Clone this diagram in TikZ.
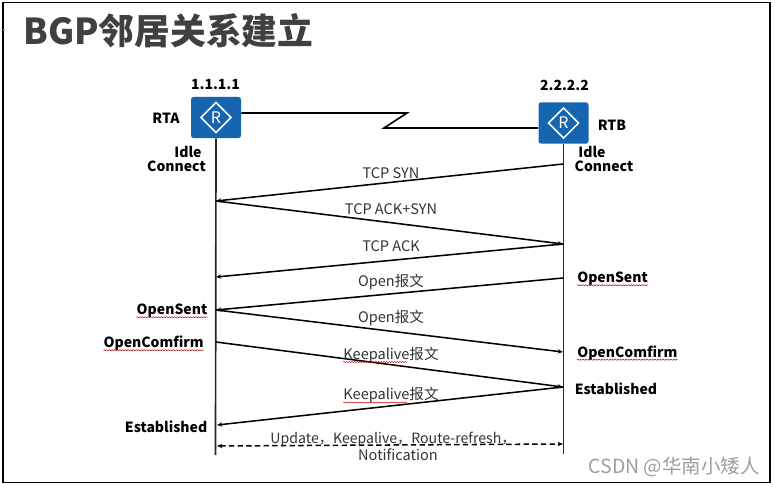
\documentclass[tikz,border=0pt]{standalone}
\usepackage{fontspec}
\setmainfont{Noto Sans CJK SC}
\usetikzlibrary{arrows.meta,decorations.pathmorphing,shapes.geometric}
\definecolor{routerblue}{HTML}{1565B0}
\definecolor{titlegrey}{HTML}{404040}
\definecolor{msggrey}{HTML}{333333}
\tikzset{
  router/.style={draw=none,fill=routerblue,rounded corners=2pt,minimum width=37.5pt,minimum height=31pt,inner sep=0pt},
  lifeline/.style={line width=1.25pt,black!85},
  msg/.style={line width=1.15pt,black,-{Stealth[length=4pt,width=3.2pt]}},
  state/.style={font=\fontsize{10.5}{12}\selectfont\bfseries,text=black,inner sep=0pt},
  msglabel/.style={font=\fontsize{10.9}{12}\selectfont,text=msggrey,inner sep=0pt},
  wavy/.style={draw=red!75!black,line width=0.35pt,decorate,decoration={snake,amplitude=0.4pt,segment length=2pt}},
  rglyph/.style={diamond,draw=white,line width=1.1pt,minimum width=23pt,minimum height=23pt,inner sep=0pt,text=white,font=\fontsize{12}{12}\selectfont}
}
\begin{document}
\begin{tikzpicture}[x=0.75pt,y=-0.75pt]
\useasboundingbox (0,0) rectangle (775,486);
\fill[white] (0,0) rectangle (775,486);
\node[draw=black,line width=0.9pt,minimum width=575.2pt,minimum height=360.5pt,inner sep=0pt] (frame) at (386.5,242.5) {};
\fill[cyan!70] (4,30) circle (1.2);
\node[anchor=west,inner sep=0pt,text=titlegrey,font=\fontsize{26.8}{30}\selectfont\bfseries] (title) at (23,31) {BGP邻居关系建立};
% routers
\node[router] (rta) at (216,117.5) {};
\node[rglyph] (rtag) at (216,117.5) {R};
\node[router] (rtb) at (563.5,123) {};
\node[rglyph] (rtbg) at (563.5,123) {R};
\node[state] (ipa) at (215.5,85) {1.1.1.1};
\node[state] (ipb) at (564.5,85) {2.2.2.2};
\node[state] (rtal) at (166,118.5) {RTA};
\node[state] (rtbl) at (612,125) {RTB};
% wan link
\coordinate (wa) at (rta.east |- 0,113);
\coordinate (wb) at (407,113);
\coordinate (wc) at (384,128);
\coordinate (wd) at (rtb.west |- 0,128);
\draw[line width=1.2pt,line join=miter] (wa) -- (wb) -- (wc) -- (wd);
% lifelines
\coordinate (la) at (215.5,455);
\coordinate (lb) at (563.5,454);
\draw[lifeline] (rta.south) -- (la);
\draw[lifeline] (rtb.south) -- (lb);
% state labels
\node[state] (idlea) at (188,152) {Idle};
\node[state] (conna) at (176.5,166.5) {Connect};
\node[state] (idleb) at (592,152) {Idle};
\node[state] (connb) at (604,166.5) {Connect};
\node[state,anchor=east] (sentA) at (207.5,311) {OpenSent};
\node[state,anchor=east] (confA) at (204,343.5) {OpenComfirm};
\node[state,anchor=east] (estA) at (207.5,427) {Established};
\node[state,anchor=west] (sentB) at (577,279) {OpenSent};
\node[state,anchor=west] (confB) at (577,353) {OpenComfirm};
\node[state,anchor=west] (estB) at (574.5,389) {Established};
% wavy underlines
\foreach \n in {sentA,confA,sentB,confB}{
  \draw[wavy] ([yshift=0.6pt]\n.south west) -- ([yshift=0.6pt]\n.south east);
}
% message anchors
\coordinate (b1) at (563,164); \coordinate (a1) at (216,201);
\coordinate (b2) at (563,244); \coordinate (a2) at (216,277);
\coordinate (b3) at (563,278); \coordinate (a3) at (216,310);
\coordinate (b4) at (563,352);
\coordinate (a5) at (216,342); \coordinate (b5) at (563,387);
\coordinate (a6) at (217,425);
\coordinate (a7) at (217,446); \coordinate (b7) at (563,444);
\draw[msg] (b1) -- (a1);
\draw[msg] (a1) -- (b2);
\draw[msg] (b2) -- (a2);
\draw[msg] (b3) -- (a3);
\draw[msg] (a3) -- (b4);
\draw[msg] (a5) -- (b5);
\draw[msg] (b5) -- (a6);
\draw[line width=1.15pt,dashed,dash pattern=on 4pt off 2.5pt,{Stealth[length=4pt,width=3.2pt]}-{Stealth[length=4pt,width=3.2pt]}] (a7) -- (b7);
% message labels
\node[msglabel] (m1) at (391,173) {TCP SYN};
\node[msglabel] (m2) at (391,209.5) {TCP ACK+SYN};
\node[msglabel] (m3) at (391,246) {TCP ACK};
\node[msglabel] (m4) at (391,282) {Open报文};
\node[msglabel] (m5) at (391,318.5) {Open报文};
\node[msglabel] (m6) at (391,355) {Keepalive报文};
\node[msglabel] (m7) at (391,395.5) {Keepalive报文};
\node[msglabel,font=\fontsize{10.6}{12}\selectfont] (m8) at (393,439) {Update，Keepalive，Route-refresh，};
\node[msglabel] (m9) at (398,455) {Notification};
\draw[wavy] ([yshift=0.8pt]m6.south west) -- ([xshift=-24pt,yshift=0.8pt]m6.south east);
\draw[wavy] ([yshift=0.8pt]m7.south west) -- ([xshift=-24pt,yshift=0.8pt]m7.south east);
\node[anchor=east,inner sep=0pt,text=black!38,font=\fontsize{14.6}{16}\selectfont] (wm) at (760,467) {CSDN @华南小矮人};
\end{tikzpicture}
\end{document}
